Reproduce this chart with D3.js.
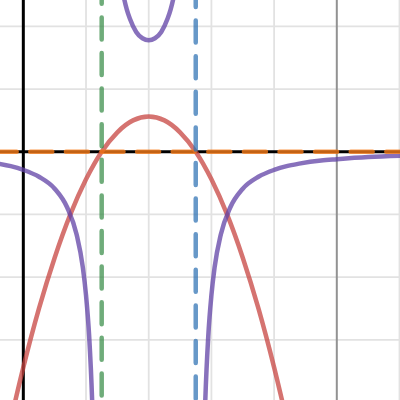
<!DOCTYPE html>
<html>
<head>
    <meta charset="utf-8">
    <title>rational function and its asymptotes</title>
    <style>
        html, body { margin: 0; padding: 0; background: #fff; }
        svg { display: block; }
    </style>
</head>
<body>

<main></main>

<script src="https://cdn.jsdelivr.net/npm/d3@7/dist/d3.min.js"></script>
<script>

    // grid lines (graph units)
    var xMinor = [1, 2, 3, 4, 6];
    var xMajor = [5];
    var yMinor = [-3, -2, -1, 1, 2];

    // asymptotes
    var vAsymX = [1.25, 2.75];
    var hAsymY = [0];

    // red parabola, points
    var parabX = [-0.2, 0, 0.25, 0.5, 0.75, 1, 1.25, 1.5, 1.75, 2, 2.25, 2.5, 2.75, 3, 3.25, 3.5, 3.75, 4, 4.2];
    var parabY = [-4.28, -3.44, -2.5, -1.69, -1.0, -0.44, 0, 0.31, 0.5, 0.56, 0.5, 0.31, 0, -0.44, -1.0, -1.69, -2.5, -3.44, -4.28];

    // purple curve, three branches
    var leftX = [-0.4, -0.2, 0, 0.25, 0.5, 0.7, 0.85, 0.95, 1.0, 1.05, 1.1, 1.13];
    var leftY = [-0.19, -0.23, -0.29, -0.4, -0.59, -0.89, -1.32, -1.85, -2.29, -2.94, -4.04, -5.14];
    var midX = [1.55, 1.6, 1.65, 1.7, 1.8, 1.9, 2.0, 2.1, 2.2, 2.3, 2.35, 2.4, 2.45];
    var midY = [2.78, 2.48, 2.27, 2.12, 1.91, 1.81, 1.78, 1.81, 1.91, 2.12, 2.27, 2.48, 2.78];
    var rightX = [2.87, 2.9, 2.95, 3.0, 3.05, 3.15, 3.3, 3.5, 3.75, 4.0, 4.2, 4.4, 4.75, 5.0, 5.5, 6.1];
    var rightY = [-5.14, -4.04, -2.94, -2.29, -1.85, -1.32, -0.89, -0.59, -0.4, -0.29, -0.23, -0.19, -0.14, -0.12, -0.086, -0.062];

    var width = 400;
    var height = 400;

    var x = d3.scaleLinear().domain([-0.372, 6.008]).range([0, width]);
    var y = d3.scaleLinear().domain([-3.96, 2.42]).range([height, 0]);

    var svg = d3.select("main")
        .append("svg")
        .attr("width", width)
        .attr("height", height);

    svg.append("defs").append("clipPath").attr("id", "plot")
        .append("rect").attr("width", width).attr("height", height);

    var g = svg.append("g").attr("clip-path", "url(#plot)");

    // grid
    g.selectAll(".vminor").data(xMinor).enter().append("line")
        .attr("x1", d => x(d)).attr("x2", d => x(d))
        .attr("y1", 0).attr("y2", height)
        .attr("stroke", "#e2e2e2").attr("stroke-width", 1.8);
    g.selectAll(".hminor").data(yMinor).enter().append("line")
        .attr("y1", d => y(d)).attr("y2", d => y(d))
        .attr("x1", 0).attr("x2", width)
        .attr("stroke", "#e2e2e2").attr("stroke-width", 1.8);
    g.selectAll(".vmajor").data(xMajor).enter().append("line")
        .attr("x1", d => x(d)).attr("x2", d => x(d))
        .attr("y1", 0).attr("y2", height)
        .attr("stroke", "#929292").attr("stroke-width", 2);

    // axes
    g.append("line")
        .attr("x1", x(0)).attr("x2", x(0)).attr("y1", 0).attr("y2", height)
        .attr("stroke", "#000").attr("stroke-width", 3);
    g.append("line")
        .attr("y1", y(0)).attr("y2", y(0)).attr("x1", 0).attr("x2", width)
        .attr("stroke", "#000").attr("stroke-width", 3);

    var line = d3.line()
        .x(d => x(d[0]))
        .y(d => y(d[1]))
        .curve(d3.curveMonotoneX);

    function drawCurve(xs, ys, color) {
        g.append("path")
            .datum(d3.zip(xs, ys))
            .attr("d", line)
            .attr("fill", "none")
            .attr("stroke", color)
            .attr("stroke-opacity", 0.75)
            .attr("stroke-width", 4.5)
            .attr("stroke-linecap", "round")
            .attr("stroke-linejoin", "round");
    }

    drawCurve(parabX, parabY, "#c74440");
    drawCurve(leftX, leftY, "#6042a6");
    drawCurve(midX, midY, "#6042a6");
    drawCurve(rightX, rightY, "#6042a6");

    // dashed asymptotes
    var dash = "22 13.6";
    g.selectAll(".hasym").data(hAsymY).enter().append("line")
        .attr("x1", 0).attr("x2", width)
        .attr("y1", d => y(d)).attr("y2", d => y(d))
        .attr("stroke", "#fa7e19").attr("stroke-opacity", 0.78)
        .attr("stroke-width", 4.5).attr("stroke-linecap", "round")
        .attr("stroke-dasharray", dash).attr("stroke-dashoffset", 5.3);

    var vColors = ["#388c46", "#2d70b3"];
    var vOffsets = [18.2, 15];
    g.selectAll(".vasym").data(vAsymX).enter().append("line")
        .attr("x1", d => x(d)).attr("x2", d => x(d))
        .attr("y1", 0).attr("y2", height)
        .attr("stroke", (d, i) => vColors[i]).attr("stroke-opacity", 0.72)
        .attr("stroke-width", 4.5).attr("stroke-linecap", "round")
        .attr("stroke-dasharray", dash)
        .attr("stroke-dashoffset", (d, i) => vOffsets[i]);
</script>
</body>
</html>
